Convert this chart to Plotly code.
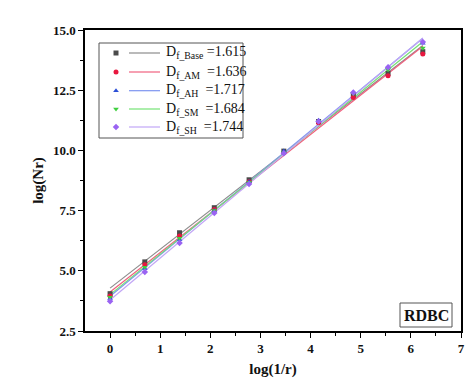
import numpy as np
import plotly.graph_objects as go

# ---- data ----
x_vals = [0.0, 0.693, 1.386, 2.079, 2.773, 3.466, 4.159, 4.852, 5.545, 6.238]
series_names = ["Base", "AM", "AH", "SM", "SH"]
y_base = [4.05, 5.37, 6.58, 7.62, 8.78, 9.97, 11.20, 12.30, 13.20, 14.10]
y_am = [3.95, 5.25, 6.45, 7.55, 8.70, 9.90, 11.15, 12.20, 13.10, 14.00]
y_ah = [3.85, 5.10, 6.30, 7.50, 8.70, 9.97, 11.25, 12.42, 13.46, 14.45]
y_sm = [3.90, 5.15, 6.35, 7.50, 8.68, 9.90, 11.20, 12.35, 13.35, 14.25]
y_sh = [3.74, 4.95, 6.15, 7.40, 8.60, 9.88, 11.20, 12.40, 13.45, 14.50]
slopes = [1.615, 1.636, 1.717, 1.684, 1.744]
slope_labels = ["1.615", "1.636", "1.717", "1.684", "1.744"]

y_all = [y_base, y_am, y_ah, y_sm, y_sh]
marker_colors = ["#4a4a4a", "#e8173f", "#2b4fd6", "#3fcf3f", "#9a63f2"]
line_colors = ["#8c8c8c", "#f0607e", "#7d95f0", "#74e274", "#c2a6f6"]
symbols = ["square", "circle", "triangle-up", "triangle-down", "diamond"]

SERIF = "Liberation Serif, Times New Roman, serif"

fig = go.Figure()
xa = np.array(x_vals)
for i, name in enumerate(series_names):
    ya = np.array(y_all[i])
    m = slopes[i]
    b = ya.mean() - m * xa.mean()
    xl = np.array([xa.min(), xa.max()])
    fig.add_trace(go.Scatter(x=xl, y=m * xl + b, mode="lines",
                             line=dict(color=line_colors[i], width=1.2),
                             showlegend=False, hoverinfo="skip"))
for i, name in enumerate(series_names):
    fig.add_trace(go.Scatter(x=x_vals, y=y_all[i], mode="markers",
                             marker=dict(symbol=symbols[i], size=5, color=marker_colors[i]),
                             showlegend=False, name=name))

# ---- manual legend (in plot-area fraction coords) ----
W, H = 474, 388
L, R, T, B = 77, 21, 22, 65
pw, ph = W - L - R, H - T - B
def fx(px):
    return (px - L) / pw
def fy(py):
    return (H - B - py) / ph

rows_py = [45, 64, 82.7, 101, 119]
fig.add_trace(go.Scatter(x=[fx(108)] * 5, y=[fy(p) for p in rows_py], mode="markers",
                         marker=dict(symbol=symbols, size=5, color=marker_colors),
                         xaxis="x2", yaxis="y2", showlegend=False, hoverinfo="skip"))
shapes = []
annotations = []
for i, name in enumerate(series_names):
    py = rows_py[i]
    shapes.append(dict(type="line", xref="paper", yref="paper",
                       x0=fx(121), x1=fx(152), y0=fy(py), y1=fy(py),
                       line=dict(color=line_colors[i], width=1.2)))
    pad = " " if name == "Base" else "  "
    annotations.append(dict(xref="paper", yref="paper", x=fx(156), y=fy(py),
                            xanchor="left", yanchor="middle", showarrow=False,
                            text=f"D<sub>f_{name}</sub>{pad}={slope_labels[i]}",
                            font=dict(family=SERIF, size=14, color="#111")))
shapes.append(dict(type="rect", xref="paper", yref="paper",
                   x0=fx(91), x1=fx(235), y0=fy(130), y1=fy(35),
                   line=dict(color="#555", width=1)))
# RDBC box
shapes.append(dict(type="rect", xref="paper", yref="paper",
                   x0=fx(392), x1=fx(444), y0=fy(319), y1=fy(295),
                   line=dict(color="#555", width=1)))
annotations.append(dict(xref="paper", yref="paper", x=(fx(392) + fx(444)) / 2,
                        y=(fy(319) + fy(295)) / 2, xanchor="center", yanchor="middle",
                        showarrow=False, text="<b>RDBC</b>",
                        font=dict(family=SERIF, size=16, color="#111")))

axis_common = dict(showline=True, linecolor="black", linewidth=1.5, mirror=True,
                   ticks="outside", ticklen=5, tickwidth=1.2, tickcolor="black",
                   showgrid=False, zeroline=False,
                   tickfont=dict(family=SERIF, size=13, color="#111"))

fig.update_layout(
    width=W, height=H,
    margin=dict(l=L, r=R, t=T, b=B),
    plot_bgcolor="white", paper_bgcolor="white",
    xaxis=dict(range=[-0.5, 7], tickvals=[0, 1, 2, 3, 4, 5, 6, 7],
               ticktext=["<b>%d</b>" % v for v in range(8)],
               minor=dict(tickvals=[0.5, 1.5, 2.5, 3.5, 4.5, 5.5, 6.5], ticks="outside",
                          ticklen=3, tickwidth=1.2, tickcolor="black"),
               title=dict(text="<b>log(1/r)</b>", font=dict(family=SERIF, size=15, color="#111"),
                          standoff=8),
               **axis_common),
    yaxis=dict(range=[2.5, 15], tickvals=[2.5, 5, 7.5, 10, 12.5, 15],
               ticktext=["<b>2.5</b>", "<b>5.0</b>", "<b>7.5</b>", "<b>10.0</b>", "<b>12.5</b>", "<b>15.0</b>"],
               minor=dict(tickvals=[3.75, 6.25, 8.75, 11.25, 13.75], ticks="outside",
                          ticklen=3, tickwidth=1.2, tickcolor="black"),
               title=dict(text="<b>log(Nr)</b>", font=dict(family=SERIF, size=15, color="#111"),
                          standoff=6),
               **axis_common),
    xaxis2=dict(range=[0, 1], overlaying="x", visible=False, fixedrange=True),
    yaxis2=dict(range=[0, 1], overlaying="y", visible=False, fixedrange=True),
    shapes=shapes, annotations=annotations,
)

fig.write_html("out.html")
